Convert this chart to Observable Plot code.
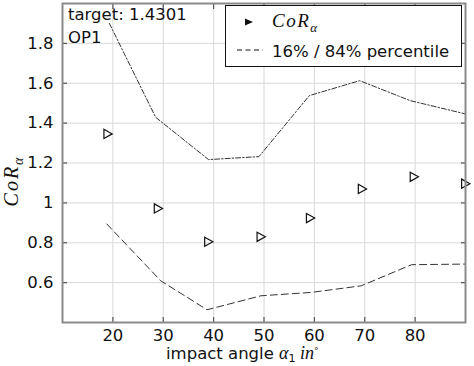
<!DOCTYPE html>
<html>
<head>
<meta charset="utf-8">
<script src="https://cdn.jsdelivr.net/npm/d3@7"></script>
<script src="https://cdn.jsdelivr.net/npm/@observablehq/plot@0.6"></script>
<style>
  html, body { margin: 0; padding: 0; background: #fff; }
  #chart { position: relative; width: 474px; height: 366px; }
</style>
</head>
<body>
<div id="chart"></div>
<script>
// ---- data ----
const markerAngles = [19, 29, 39, 49.4, 59.2, 69.5, 79.8, 90];
const corValues    = [1.346, 0.972, 0.805, 0.83, 0.924, 1.07, 1.131, 1.096];
const upperAngles  = [19.3, 28.5, 39, 49, 59, 69, 79, 90];
const upperValues  = [1.90, 1.429, 1.217, 1.232, 1.538, 1.613, 1.513, 1.446];
const lowerAngles  = [18.8, 29.5, 38.7, 49.4, 59.4, 69.3, 79.3, 90];
const lowerValues  = [0.894, 0.609, 0.464, 0.534, 0.551, 0.584, 0.69, 0.693];
const xTicks = [20, 30, 40, 50, 60, 70, 80];
const yTicks = [0.6, 0.8, 1, 1.2, 1.4, 1.6, 1.8];
const targetLabel = "target: 1.4301";
const opLabel = "OP1";
const legendPercentile = "16% / 84% percentile";

const markers = markerAngles.map((a, i) => ({a, v: corValues[i]}));
const upper = upperAngles.map((a, i) => ({a, v: upperValues[i]}));
const lower = lowerAngles.map((a, i) => ({a, v: lowerValues[i]}));

// right-pointing triangle symbol
const triRight = {
  draw(ctx, size) {
    const r = Math.sqrt(size / Math.PI);
    ctx.moveTo(-r * 0.85, -r);
    ctx.lineTo(r * 0.95, 0);
    ctx.lineTo(-r * 0.85, r);
    ctx.closePath();
  }
};

const fmt = d => String(+(+d).toFixed(1));
const W = 474, H = 366;
const mL = 62, mR = 9, mT = 3, mB = 44;

const plot = Plot.plot({
  width: W, height: H,
  marginLeft: mL, marginRight: mR, marginTop: mT, marginBottom: mB,
  style: {fontFamily: "DejaVu Sans", fontSize: "16.5px", background: "#fff", color: "#111"},
  x: {domain: [10, 90]},
  y: {domain: [0.4, 2.0]},
  marks: [
    Plot.gridX(xTicks, {stroke: "#d8d8d8", strokeOpacity: 1}),
    Plot.gridY(yTicks, {stroke: "#d8d8d8", strokeOpacity: 1}),
    Plot.axisX(xTicks, {anchor: "bottom", tickSize: -5, tickPadding: 12, label: null, stroke: "#555", strokeWidth: 1.2, tickFormat: fmt, fill: "#111"}),
    Plot.axisX(xTicks, {anchor: "top", tickSize: -5, label: null, stroke: "#555", strokeWidth: 1.2, tickFormat: () => ""}),
    Plot.axisY(yTicks, {anchor: "left", tickSize: -5, tickPadding: 14, label: null, stroke: "#555", strokeWidth: 1.2, tickFormat: fmt, fill: "#111"}),
    Plot.axisY(yTicks, {anchor: "right", tickSize: -5, label: null, stroke: "#555", strokeWidth: 1.2, tickFormat: () => ""}),
    Plot.line(upper, {x: "a", y: "v", stroke: "#333", strokeWidth: 1, strokeDasharray: "5,2,1.5,2"}),
    Plot.line(lower, {x: "a", y: "v", stroke: "#333", strokeWidth: 1, strokeDasharray: "7,4"}),
    Plot.dot(markers, {x: "a", y: "v", symbol: triRight, r: 4.6, stroke: "#111", strokeWidth: 1.2, fill: "none"}),
    Plot.frame({stroke: "#8a8a8a", strokeWidth: 2})
  ]
});
document.getElementById("chart").appendChild(plot);

// ---- annotations, labels and legend ----
const svg = d3.select(plot);
const ns = "DejaVu Sans";
const serifI = "'Liberation Serif', 'DejaVu Serif', serif";

function txt(parent, x, y) {
  return parent.append("text").attr("x", x).attr("y", y).attr("text-anchor", "start")
    .attr("font-family", ns).attr("font-size", 16.5).attr("fill", "#111");
}

txt(svg, 68, 20).text(targetLabel);
txt(svg, 68, 43).text(opLabel);

// legend
const lg = svg.append("g");
lg.append("rect").attr("x", 225.5).attr("y", 5.5).attr("width", 236).attr("height", 61)
  .attr("fill", "#fff").attr("stroke", "#111").attr("stroke-width", 1);
lg.append("path").attr("d", "M245,18.5 L253,22 L245,25.5 Z").attr("fill", "#111");
const t1 = txt(lg, 272, 27).attr("font-family", serifI).attr("font-style", "italic")
  .attr("font-size", 19).attr("letter-spacing", 1.5);
t1.append("tspan").text("CoR");
t1.append("tspan").attr("font-size", 13).attr("dy", 5).text("α");
lg.append("line").attr("x1", 237).attr("x2", 263).attr("y1", 50).attr("y2", 50)
  .attr("stroke", "#111").attr("stroke-width", 1.2).attr("stroke-dasharray", "5,3.5");
txt(lg, 272, 57).text(legendPercentile);

// y-axis label
const yl = svg.append("text").attr("transform", "translate(18,181) rotate(-90)")
  .attr("text-anchor", "middle")
  .attr("font-family", serifI).attr("font-style", "italic").attr("font-size", 20)
  .attr("letter-spacing", 2).attr("fill", "#111");
yl.append("tspan").text("CoR");
yl.append("tspan").attr("font-size", 14).attr("dy", 5).text("α");

// x-axis label
const xl = txt(svg, 166, 359);
xl.append("tspan").text("impact angle ");
xl.append("tspan").attr("font-family", serifI).attr("font-style", "italic").attr("font-size", 18).text("α");
xl.append("tspan").attr("font-size", 11).attr("dy", 3).text("1");
xl.append("tspan").attr("font-family", serifI).attr("font-style", "italic").attr("font-size", 18).attr("dy", -3).text(" in");
xl.append("tspan").attr("font-size", 9).attr("dy", -5).text("°");
</script>
</body>
</html>
